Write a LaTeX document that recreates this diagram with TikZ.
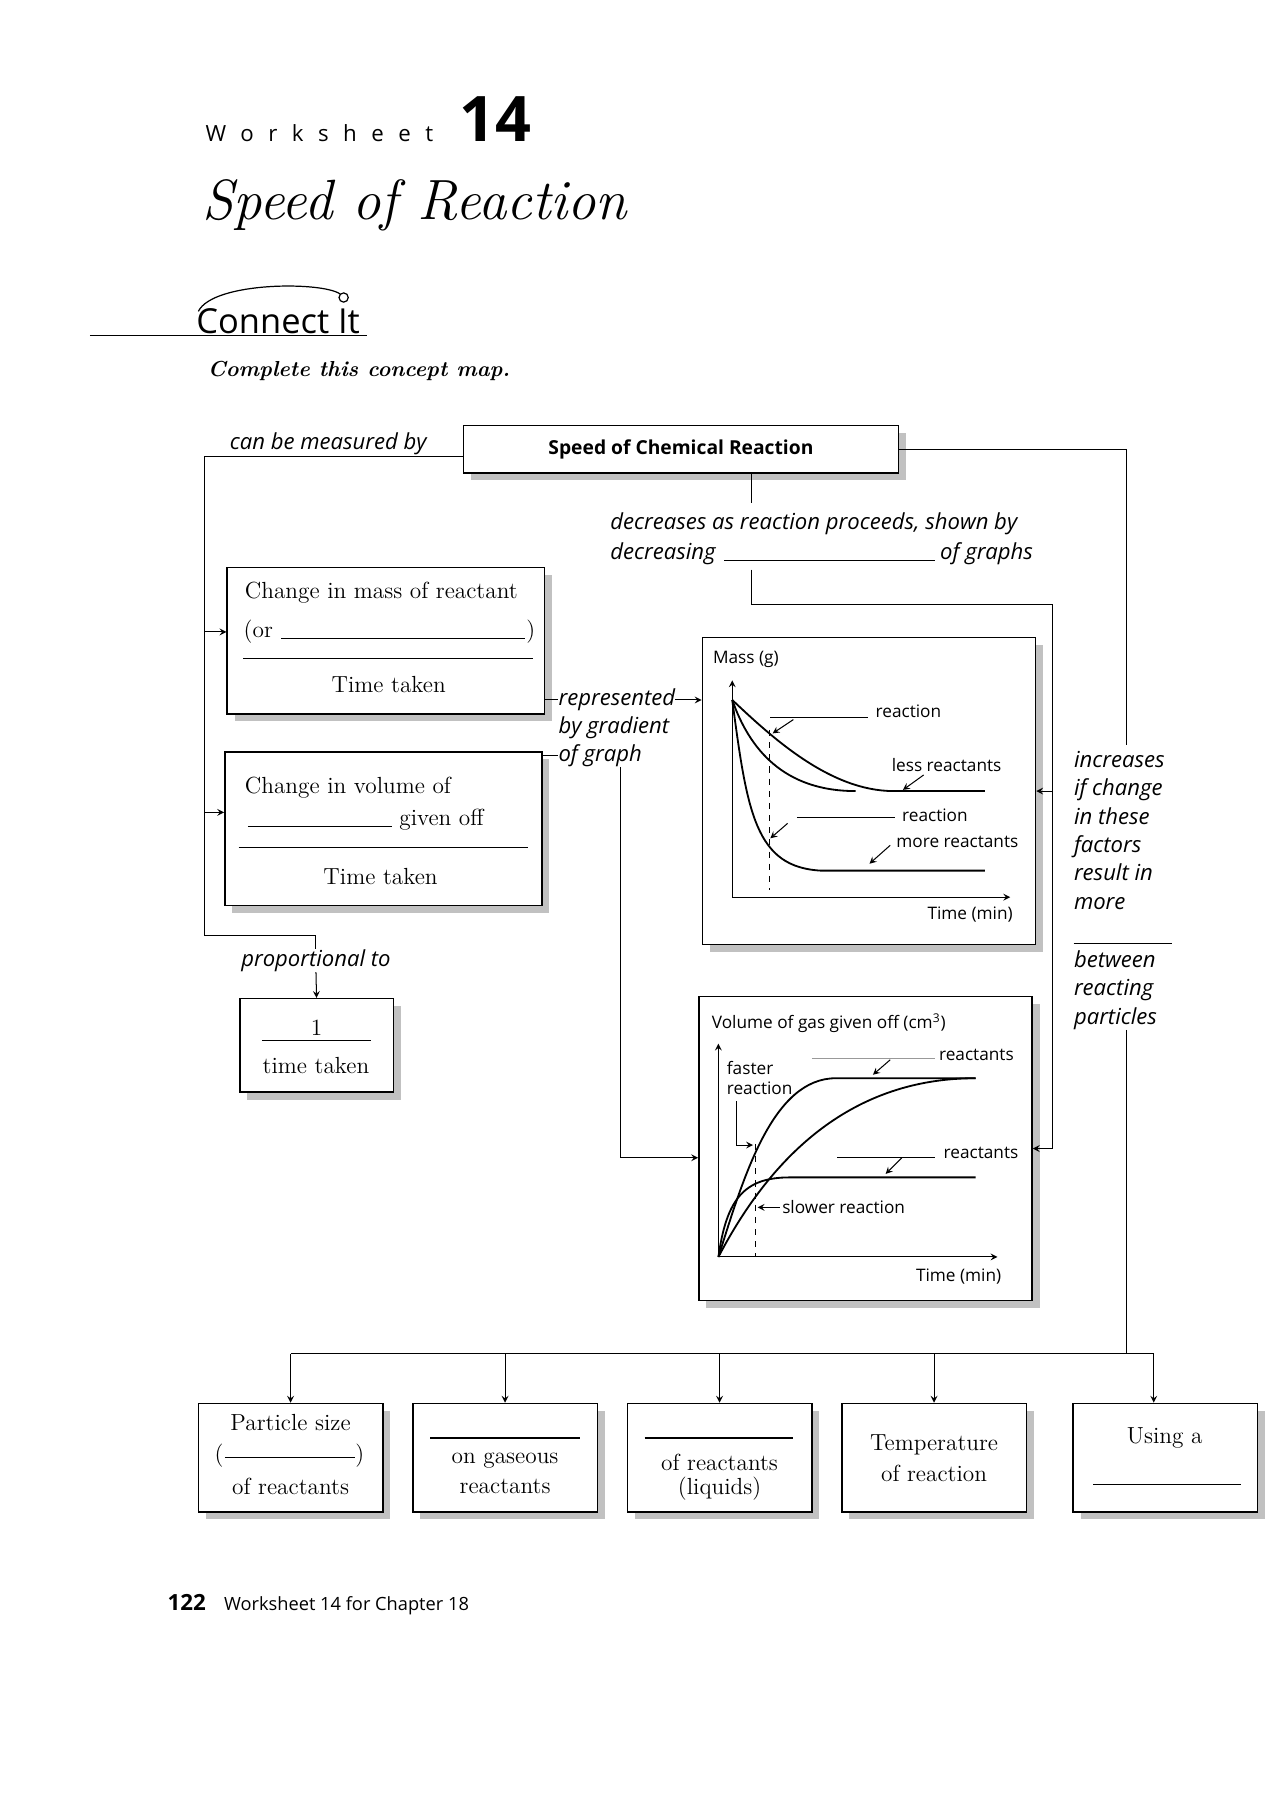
\documentclass[tikz,border=0pt]{standalone}
\usepackage{fontspec}
\setsansfont{Open Sans}
\newfontfamily\spacedsans[LetterSpace=65]{Open Sans}
\usetikzlibrary{shadows}

\begin{document}
\begin{tikzpicture}[x=0.2mm,y=-0.2mm,>=stealth,
  box/.style={draw,fill=white,line width=0.7pt,inner sep=0pt,
    drop shadow={shadow xshift=1.3mm,shadow yshift=-1.3mm,fill=black!30,opacity=0.8}},
  lbl/.style={font=\sffamily\itshape\fontsize{10.9}{14}\selectfont,inner sep=0pt},
  txt/.style={font=\fontsize{11.5}{13}\selectfont,inner sep=0pt},
  gtxt/.style={font=\sffamily\fontsize{8.5}{10}\selectfont,inner sep=0pt,anchor=west},
  curve/.style={line width=0.9pt},
  link/.style={line width=0.5pt},
  blank/.style={line width=0.6pt}]

% 页面大小
\fill[white] (0,0) rectangle (1110,1564.4);
\useasboundingbox (0,0) rectangle (1110,1564.4);

% 标题
\node[anchor=base west,inner sep=0pt,font={\spacedsans\fontsize{11}{13}\selectfont}] (wsword) at (178,123) {Worksheet};
\node[anchor=base west,inner sep=0pt,font={\sffamily\bfseries\fontsize{31}{34}\selectfont}] (wsnum) at (398,123) {14};
\node[anchor=base west,inner sep=0pt,font={\itshape\fontsize{28}{31}\selectfont}] (title) at (175,190) {Speed of Reaction};

% Connect It
\node[anchor=base west,inner sep=0pt,font={\sffamily\fontsize{17}{20}\selectfont}] (conn) at (170,289) {Connect It};
\draw[link] (78,291) -- (318,291);
\draw[line width=0.6pt] (172,270) .. controls (185,244) and (280,244) .. (295,255);
\draw[line width=0.6pt,fill=white] (298,258) circle (0.8mm);
\node[anchor=west,inner sep=0pt,font={\bfseries\itshape\fontsize{10.7}{13}\selectfont}] (instr) at (180,322) {Complete this concept map.};

% 方框
\node[box,minimum width=75.4mm,minimum height=8.2mm,font=\sffamily\bfseries\fontsize{9.5}{11}\selectfont] (speed) at (590.5,389.5) {Speed of Chemical Reaction};
\node[box,minimum width=55mm,minimum height=25.4mm] (massbox) at (334.5,555.5) {};
\node[box,minimum width=55mm,minimum height=26.6mm] (volbox) at (332.5,718.5) {};
\node[box,minimum width=26.6mm,minimum height=16.2mm] (invbox) at (274.5,906.5) {};
\node[box,minimum width=57.8mm,minimum height=53.2mm] (massgraph) at (753.5,686) {};
\node[box,minimum width=57.8mm,minimum height=52.8mm] (volgraph) at (750.5,996) {};
\foreach \n/\x in {b1/252,b2/438,b3/624,b4/810,b5/1010.5}
  \node[box,minimum width=32mm,minimum height=18.8mm] (\n) at (\x,1264) {};

% 方框内文字
\node[txt,anchor=west] (mline) at (212,514) {Change in mass of reactant};
\node[txt,anchor=west] (mor) at (211,548) {(or};
\draw[blank] (244,554) -- (455,554);
\node[txt,anchor=west] (mclose) at (456,548) {)};
\draw[blank] (211,571) -- (462,571);
\node[txt] (mtime) at (337,594) {Time taken};

\node[txt,anchor=west] (vline) at (212,683) {Change in volume of};
\draw[blank] (215,717) -- (340,717);
\node[txt,anchor=west] (vgiven) at (346,711) {given off};
\draw[blank] (207,735) -- (458,735);
\node[txt] (vtime) at (330,760) {Time taken};

\node[txt] (one) at (274.5,891) {1};
\draw[blank] (227,902) -- (322,902);
\node[txt] (ttaken) at (274,924) {time taken};

\node[txt] (psize) at (252,1234) {Particle size};
\node[txt] (popen) at (190,1262) {(};
\draw[blank] (195,1264) -- (308,1264);
\node[txt] (pclose) at (312,1262) {)};
\node[txt] (preact) at (252,1289) {of reactants};
\draw[blank] (373,1247) -- (503,1247);
\node[txt] (gas) at (438,1267) {on gaseous};
\node[txt] (gasr) at (438,1289) {reactants};
\draw[blank] (559,1247) -- (688,1247);
\node[txt] (liq) at (624,1268) {of reactants};
\node[txt] (liqr) at (624,1291) {(liquids)};
\node[txt] (temp) at (810,1253) {Temperature};
\node[txt] (tempr) at (810,1278) {of reaction};
\node[txt] (using) at (1010,1247) {Using a};
\draw[blank] (948,1287) -- (1076,1287);

% 连线上的文字
\node[lbl,anchor=west] (measured) at (199,385) {can be measured by};
\node[lbl,anchor=west] (decr) at (529,454) {decreases as reaction proceeds, shown by};
\node[lbl,anchor=west] (decring) at (529,480) {decreasing};
\draw[blank] (628,486) -- (811,486);
\node[lbl,anchor=west] (ofgraphs) at (815,480) {of graphs};
\node[lbl,anchor=west] (repr) at (484,607) {represented};
\node[lbl,anchor=west] (bygrad) at (484,631) {by gradient};
\node[lbl,anchor=west] (ofgraph) at (484,655) {of graph};
\node[lbl] (prop) at (274,833) {proportional to};
\node[lbl,anchor=north west,align=left] (incr) at (931,651) {increases\\if change\\in these\\factors\\result in\\more};
\draw[blank] (931,818) -- (1016,818);
\node[lbl,anchor=north west,align=left] (betw) at (931,824) {between\\reacting\\particles};

% 连线
\coordinate (lrail) at (177,811);
\coordinate (min) at ([yshift=1.5mm]massbox.west);
\coordinate (vin) at ([yshift=2.8mm]volbox.west);
\draw[link] ([yshift=-1.2mm]speed.west) -| (lrail) -| (prop.north);
\draw[link,->] (lrail |- min) -- (min);
\draw[link,->] (lrail |- vin) -- (vin);
\draw[link,->] (prop.south) -- (invbox.north);

\draw[link] (massbox.east |- repr.west) -- (repr.west);
\draw[link,->] (repr.east) -- (massgraph.west |- repr.east);
\draw[link] (volbox.east |- ofgraph.west) -- (ofgraph.west);
\coordinate (gdrop) at (538,665);
\coordinate (vgin) at ([yshift=-1.6mm]volgraph.west);
\draw[link,->] (gdrop) |- (vgin);

\coordinate (dtop) at (652,436);
\coordinate (dbot) at (652,494);
\coordinate (rail) at (913,524);
\draw[link] (speed.south -| dtop) -- (dtop);
\draw[link,->] (dbot) |- (rail) |- (volgraph.east);
\draw[link,->] (rail |- massgraph.east) -- (massgraph.east);

\coordinate (rtop) at (977,646);
\coordinate (bus) at (977,1174);
\coordinate (b5in) at ([xshift=-2mm]b5.north);
\draw[link] (speed.east) -| (rtop);
\draw[link] (betw.south -| bus) -- (bus);
\draw[link] (b1.north |- bus) -- (b5in |- bus);
\foreach \n in {b1,b2,b3,b4}
  \draw[link,->] (\n.north |- bus) -- (\n.north);
\draw[link,->] (b5in |- bus) -- (b5in);

% 质量-时间图
\draw[link,->] (635,778) -- (635,590);
\draw[link,->] (635,778) -- (876,778);
\draw[curve] (635,607) .. controls (670,640) and (720,686) .. (775,686) -- (854,686);
\draw[curve] (635,607) .. controls (650,650) and (680,686) .. (742,686);
\draw[curve] (635,607) .. controls (648,705) and (655,752) .. (712,755) -- (854,755);
\draw[link,dashed] (667,633) -- (667,772);
\node[gtxt] (mylab) at (618,572) {Mass (g)};
\node[gtxt] (mxlab) at (804,793) {Time (min)};
\node[gtxt] (mr1) at (759,617) {reaction};
\draw[link] (668,622) -- (753,622);
\draw[link,->] (688,624) -- (670,636);
\node[gtxt] (mless) at (773,663) {less reactants};
\draw[link,->] (801,672) -- (783,685);
\node[gtxt] (mr2) at (782,707) {reaction};
\draw[link] (691,709) -- (776,709);
\draw[link,->] (683,714) -- (668,727);
\node[gtxt] (mmore) at (777,730) {more reactants};
\draw[link,->] (772,733) -- (754,749);

% 体积-时间图
\draw[link,->] (623,1090) -- (623,905);
\draw[link,->] (623,1090) -- (865,1090);
\draw[curve] (623,1090) .. controls (645,1020) and (670,935) .. (725,935) -- (846,935);
\draw[curve] (623,1090) .. controls (670,1000) and (740,935) .. (846,935);
\draw[curve] (623,1090) .. controls (630,1040) and (645,1021) .. (685,1021) -- (846,1021);
\draw[link,dashed] (655,992) -- (655,1090);
\node[gtxt] (vylab) at (617,887) {Volume of gas given off (cm\textsuperscript{3})};
\node[gtxt] (vxlab) at (794,1107) {Time (min)};
\node[gtxt] (vfast) at (630,926) {faster};
\node[gtxt] (vfastr) at (630,944) {reaction};
\draw[link,->] (639,955) |- (653,993);
\node[gtxt] (vr1) at (814,915) {reactants};
\draw[link,black!40] (704,918) -- (811,918);
\draw[link,->] (772,919) -- (757,932);
\node[gtxt] (vr2) at (818,1000) {reactants};
\draw[link] (726,1004) -- (811,1004);
\draw[link,->] (782,1004) -- (768,1018);
\node[gtxt] (vslow) at (678,1047) {slower reaction};
\draw[link,->] (676,1047) -- (657,1047);

% 页脚
\node[anchor=base west,inner sep=0pt,font=\sffamily\bfseries\fontsize{11}{13}\selectfont] (pgno) at (145,1397) {122};
\node[anchor=base west,inner sep=0pt,font=\sffamily\fontsize{9}{11}\selectfont] (foot) at (194,1397) {Worksheet 14 for Chapter 18};

\end{tikzpicture}
\end{document}
